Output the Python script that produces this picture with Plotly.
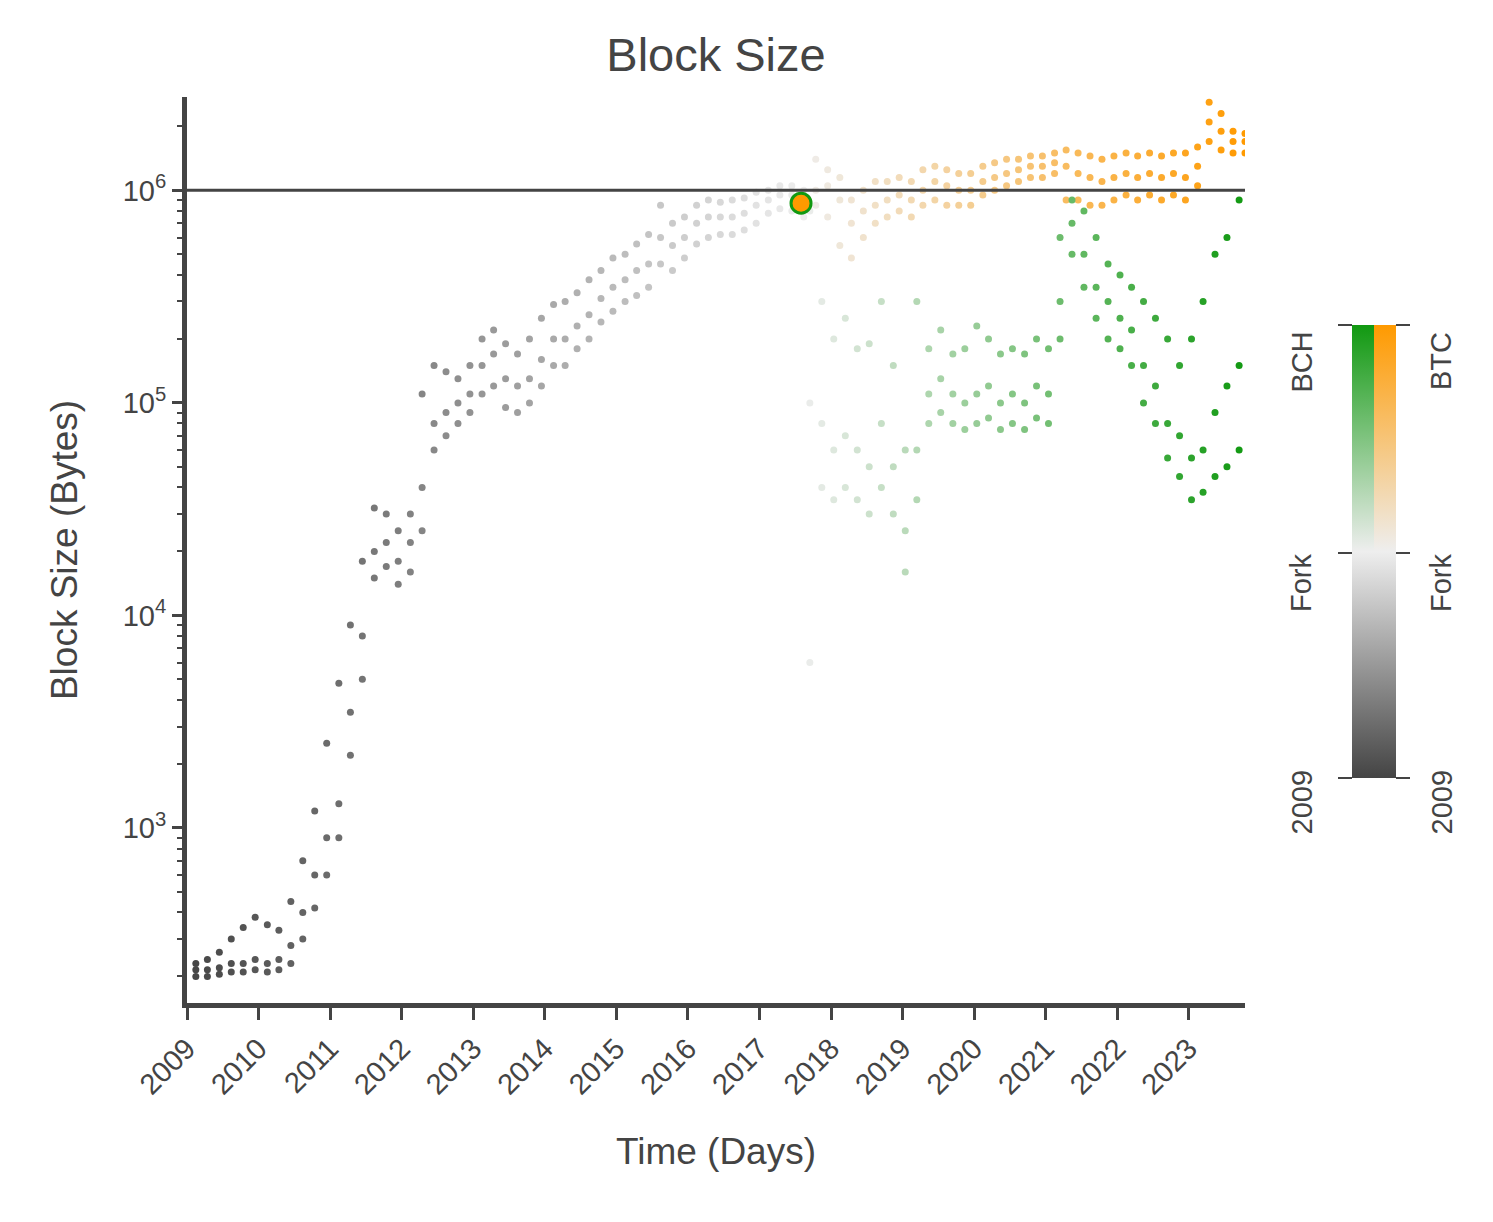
import numpy as np
import pandas as pd
import plotly.graph_objects as go

# BTC block size, sampled every two months (bytes)
BTC_START = "2009-01-15"
BTC_MID = [215, 215, 220, 230, 230, 240, 230, 240, 280, 400, 600, 900,
           1300, 3500, 8000, 20000, 22000, 18000, 22000, 40000, 80000, 90000, 100000, 110000,
           150000, 170000, 130000, 120000, 130000, 160000, 200000, 200000, 230000, 260000, 310000, 350000,
           380000, 420000, 450000, 600000, 550000, 600000, 700000, 750000, 750000, 750000, 780000, 850000,
           900000, 950000, 950000, 900000, 1000000, 1050000, 900000, 700000, 800000, 850000, 900000, 950000,
           900000, 1000000, 1100000, 1050000, 1000000, 1000000, 1100000, 1150000, 1200000, 1250000, 1300000, 1300000,
           1350000, 1300000, 1200000, 1150000, 1100000, 1150000, 1200000, 1150000, 1200000, 1150000, 1200000, 1150000,
           1300000, 2100000, 1900000, 1700000, 1700000]
BTC_LOW = [200, 200, 205, 210, 210, 215, 210, 215, 230, 300, 420, 600,
           900, 2200, 5000, 15000, 17000, 14000, 16000, 25000, 60000, 70000, 80000, 90000,
           110000, 120000, 95000, 90000, 100000, 120000, 150000, 150000, 180000, 200000, 240000, 270000,
           300000, 320000, 350000, 450000, 420000, 480000, 560000, 600000, 620000, 620000, 650000, 700000,
           780000, 820000, 800000, 750000, 850000, 750000, 550000, 480000, 600000, 700000, 750000, 800000,
           750000, 850000, 900000, 850000, 850000, 850000, 950000, 1000000, 1050000, 1100000, 1150000, 1150000,
           1200000, 900000, 900000, 850000, 850000, 900000, 950000, 900000, 950000, 900000, 950000, 900000,
           1050000, 1700000, 1550000, 1500000, 1500000]
BTC_HIGH = [230, 240, 260, 300, 340, 380, 350, 330, 450, 700, 1200, 2500,
            4800, 9000, 18000, 32000, 30000, 25000, 30000, 110000, 150000, 140000, 130000, 150000,
            200000, 220000, 190000, 170000, 200000, 250000, 290000, 300000, 330000, 380000, 420000, 480000,
            500000, 560000, 620000, 850000, 700000, 750000, 850000, 900000, 880000, 900000, 920000, 980000,
            1000000, 1050000, 1050000, 1000000, 1400000, 1250000, 1150000, 900000, 1000000, 1100000, 1100000, 1150000,
            1100000, 1250000, 1300000, 1250000, 1200000, 1200000, 1300000, 1350000, 1400000, 1400000, 1450000, 1450000,
            1500000, 1550000, 1500000, 1450000, 1400000, 1450000, 1500000, 1450000, 1500000, 1450000, 1500000, 1500000,
            1600000, 2600000, 2300000, 1900000, 1850000]

# BCH block size after the fork, sampled every two months (bytes)
BCH_START = "2017-08-15"
BCH_MID = [100000, 80000, 60000, 70000, 60000, 50000, 80000, 50000, 25000, 60000,
           110000, 130000, 110000, 100000, 110000, 120000, 100000, 110000, 100000, 120000,
           110000, 300000, 700000, 500000, 350000, 300000, 250000, 220000, 150000, 120000,
           80000, 70000, 55000, 60000, 90000, 120000, 150000]
BCH_LOW = [6000, 40000, 35000, 40000, 35000, 30000, 40000, 30000, 16000, 35000,
           80000, 90000, 80000, 75000, 80000, 85000, 75000, 80000, 75000, 85000,
           80000, 200000, 500000, 350000, 250000, 200000, 180000, 150000, 100000, 80000,
           55000, 45000, 35000, 38000, 45000, 50000, 60000]
BCH_HIGH = [800000, 300000, 200000, 250000, 180000, 190000, 300000, 150000, 60000, 300000,
            180000, 220000, 170000, 180000, 230000, 200000, 170000, 180000, 170000, 200000,
            180000, 600000, 900000, 800000, 600000, 450000, 400000, 350000, 300000, 250000,
            200000, 150000, 200000, 300000, 500000, 600000, 900000]

FORK_DATE = "2017-08-01"
FORK_SIZE = 870000
END_DATE = "2023-10-15"

btc_dates = pd.date_range(BTC_START, periods=len(BTC_MID), freq="2MS") + pd.Timedelta(days=14)
bch_dates = pd.date_range(BCH_START, periods=len(BCH_MID), freq="2MS") + pd.Timedelta(days=14)

t0 = pd.Timestamp("2009-01-03")
tf = pd.Timestamp(FORK_DATE)
te = pd.Timestamp(END_DATE)


def cval(d):
    d = pd.Timestamp(d)
    if d < tf:
        return 0.5 * (d - t0) / (tf - t0)
    return 0.5 + 0.5 * min(1, (d - tf) / (te - tf))


BTC_SCALE = [[0, "#444444"], [0.5, "#eeeeee"], [1, "#ff9a00"]]
BCH_SCALE = [[0, "#444444"], [0.5, "#eeeeee"], [1, "#119911"]]

# page has an 8px body margin, so work in page pixels minus that
OFF = 8
W, H = 1493, 1222
L, R, T, B = 187 - OFF, 1245 - OFF, 97 - OFF, 1003 - OFF


def px(x):
    return (x - OFF - L) / (R - L)


def py(y):
    return (B - (y - OFF)) / (B - T)


fig = go.Figure()
fig.add_hline(y=1e6, line=dict(color="#444444", width=3))


def add_series(dates, lists, scale, bar_x):
    xs, ys = [], []
    for vals in lists:
        xs += list(dates)
        ys += vals
    cs = [cval(d) for d in xs]
    fig.add_trace(go.Scatter(
        x=xs, y=ys, mode="markers", showlegend=False,
        marker=dict(size=7, color=cs, cmin=0, cmax=1, colorscale=scale,
                    showscale=True,
                    colorbar=dict(x=bar_x, xanchor="left", y=py(551.5), yanchor="middle",
                                  thickness=22, thicknessmode="pixels", len=453, lenmode="pixels",
                                  xpad=0, ypad=0, outlinewidth=0, showticklabels=False, ticks=""))))


add_series(btc_dates, [BTC_MID, BTC_LOW, BTC_HIGH], BTC_SCALE, px(1374))
add_series(bch_dates, [BCH_MID, BCH_LOW, BCH_HIGH], BCH_SCALE, px(1352))

fig.add_trace(go.Scatter(x=[FORK_DATE], y=[FORK_SIZE], mode="markers", showlegend=False,
                         marker=dict(size=20, color="#ff9a00", line=dict(color="#119911", width=3))))

shapes = []
for yy in [325, 553, 778]:
    shapes.append(dict(type="line", xref="paper", yref="paper", x0=px(1338), x1=px(1352),
                       y0=py(yy), y1=py(yy), line=dict(color="#444444", width=2)))
    shapes.append(dict(type="line", xref="paper", yref="paper", x0=px(1396), x1=px(1410),
                       y0=py(yy), y1=py(yy), line=dict(color="#444444", width=2)))
fig.update_layout(shapes=list(fig.layout.shapes) + shapes)

for xp, labels in [(1319, ["BCH", "Fork", "2009"]), (1459, ["BTC", "Fork", "2009"])]:
    for lab, yy, ys in zip(labels, [360, 583, 815], [30, 0, -22]):
        fig.add_annotation(x=px(xp), y=py(yy), xref="paper", yref="paper", text=lab,
                           showarrow=False, textangle=-90, font=dict(size=29, color="#444444"),
                           yshift=ys)

fig.update_layout(
    width=W, height=H,
    margin=dict(l=L, r=W - R, t=T, b=H - B),
    paper_bgcolor="white", plot_bgcolor="white",
    font=dict(family="Liberation Sans, Arial, sans-serif", color="#444444", size=29),
    title=dict(text="Block Size", x=(L + R) / 2 / W, xanchor="center", y=1 - (55 - OFF) / H,
               yanchor="middle", font=dict(size=47)),
    xaxis=dict(type="date", range=["2009-01-01", END_DATE], dtick="M12", tick0="2009-01-01",
               tickformat="%Y", tickangle=-45, showgrid=False, zeroline=False,
               showline=True, linecolor="#444444", linewidth=5, ticks="outside",
               ticklen=12, tickwidth=3, tickcolor="#444444",
               title=dict(text="Time (Days)", font=dict(size=37), standoff=40)),
    yaxis=dict(type="log", range=[np.log10(150), np.log10(2.75e6)], showgrid=False,
               zeroline=False, showline=True, linecolor="#444444", linewidth=5,
               ticks="outside", ticklen=10, tickwidth=3, tickcolor="#444444",
               tickvals=[1e3, 1e4, 1e5, 1e6],
               ticktext=["10<sup>3</sup>", "10<sup>4</sup>", "10<sup>5</sup>", "10<sup>6</sup>"],
               minor=dict(ticks="outside", ticklen=5, tickwidth=2, tickcolor="#444444",
                          dtick="D1"),
               title=dict(text="Block Size (Bytes)", font=dict(size=37), standoff=35)),
)

fig.write_html("out.html")
